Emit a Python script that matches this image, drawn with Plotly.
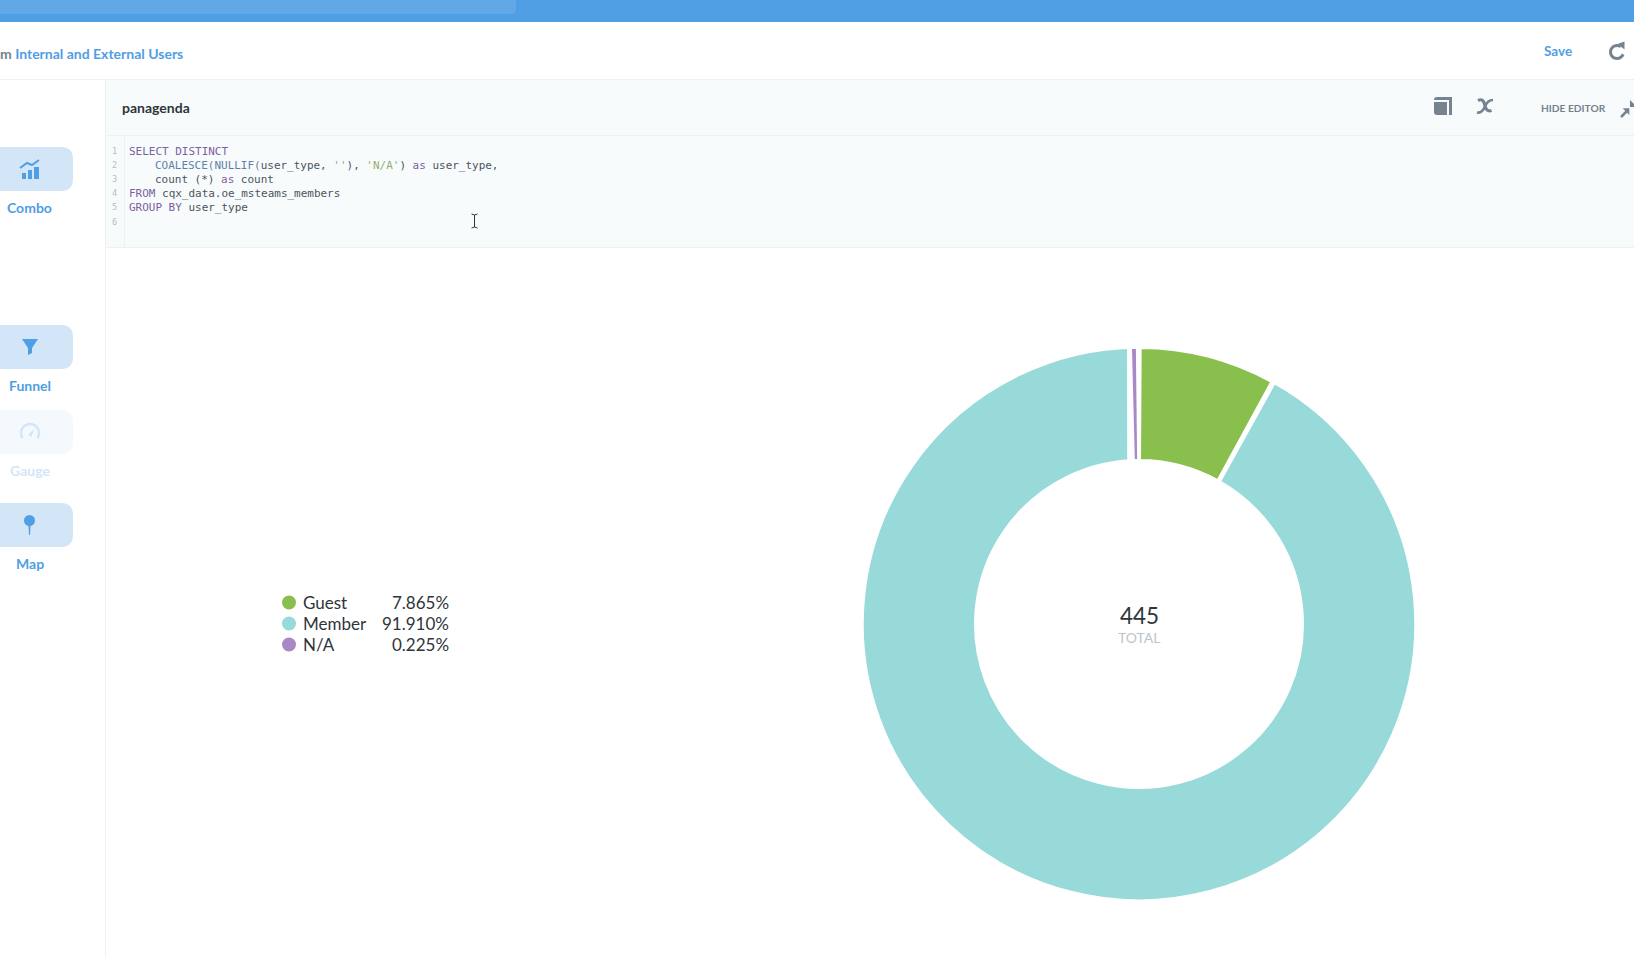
import math
import plotly.graph_objects as go

W, H = 1634, 957

# Data
categories = ["Guest", "Member", "N/A"]
counts = [35, 409, 1]
colors = ["#88BF4D", "#98D9D9", "#A989C5"]
total_label = "TOTAL"
sidebar_labels = ["Combo", "Funnel", "Gauge", "Map"]

K = "#7B5FA0"   # keyword
F = "#5F7FA8"   # function
T = "#4A5560"   # plain text
S = "#8FAF6E"   # string
def c(col, s):
    return f'<span style="color:{col}">{s.replace(" ", chr(160))}</span>'
sql_lines = [
    (129, c(K, "SELECT DISTINCT")),
    (155, c(F, "COALESCE(NULLIF(") + c(T, "user_type, ") + c(S, "''") + c(T, "), ") + c(S, "'N/A'") + c(T, ") ") + c(K, "as") + c(T, " user_type,")),
    (155, c(T, "count (*) ") + c(K, "as") + c(T, " count")),
    (129, c(K, "FROM") + c(T, " cqx_data.oe_msteams_members")),
    (129, c(K, "GROUP BY") + c(T, " user_type")),
]

BLUE = "#509EE3"
ICON = "#74838F"
shapes, ann = [], []

def rect(x0, y0, x1, y1, fill):
    shapes.append(dict(type="rect", x0=x0, y0=y0, x1=x1, y1=y1, fillcolor=fill, line_width=0, layer="below"))

def rrect_left(y0, y1, x1, fill, r=12):
    p = f"M-10,{y0} L{x1-r},{y0} Q{x1},{y0} {x1},{y0+r} L{x1},{y1-r} Q{x1},{y1} {x1-r},{y1} L-10,{y1} Z"
    shapes.append(dict(type="path", path=p, fillcolor=fill, line_width=0, layer="below"))

def path(p, fill=None, line=None, lw=0):
    d = dict(type="path", path=p, layer="below")
    d["fillcolor"] = fill or "rgba(0,0,0,0)"
    d["line"] = dict(color=line or "rgba(0,0,0,0)", width=lw)
    shapes.append(d)

def arc(cx, cy, r, a0, a1, n=24):
    # icon outline, angles in degrees clockwise from 12 o'clock
    pts = []
    for i in range(n + 1):
        a = math.radians(a0 + (a1 - a0) * i / n)
        pts.append(f"{cx + r*math.sin(a):.2f},{cy - r*math.cos(a):.2f}")
    return "M" + " L".join(pts)

def text(x, y, s, size=14, color="#2E353B", anchor="left", family="Lato"):
    shift = {"left": -2, "right": 2, "center": 0}[anchor]
    ann.append(dict(x=x, y=y, text=s, showarrow=False, xanchor=anchor, yanchor="middle", xshift=shift,
                    font=dict(family=family, size=size, color=color), xref="x", yref="y"))

# Top chrome
rect(0, 0, W, 22, BLUE)
path("M-5,0 L516,0 L516,9 Q516,14 510,14 L-5,14 Z", fill="#62A8E7")
rect(0, 79, W, 80, "#EEF0F2")
rect(105, 80, W, 247, "#F8FBFC")
rect(105, 135, W, 136, "#EEF0F2")
rect(105, 247, W, 248, "#EEF0F2")
rect(105, 80, 106, 957, "#EEF0F2")
rect(124, 136, 125, 247, "#EEF0F2")

text(0, 53.5, '<b><span style="color:#74838F">m </span><span style="color:#509EE3">Internal and External Users</span></b>', 14)
ann[-1]["xshift"] = -2.5
text(122, 107.5, "<b>panagenda</b>", 14)
text(1558, 51, "<b>Save</b>", 13.5, BLUE, "center")
text(1573, 108, "<b>HIDE EDITOR</b>", 10.2, ICON, "center")

# Book icon
path("M1434,100 Q1434,97 1437,97 L1452,97 L1452,115 L1449,115 L1449,100 L1434,100 Z", fill=ICON)
path("M1434,102 L1447,102 L1447,115 L1437,115 Q1434,115 1434,112 Z", fill=ICON)
# Variable x icon
path("M1478,100.5 Q1483,98 1484.5,104 Q1486,112.5 1491.5,110.5", line=ICON, lw=3.2)
path("M1477,112.5 Q1482,113.5 1485,106.5 Q1487.5,100 1493,100", line=ICON, lw=2.6)
# Refresh icon
path(arc(1617, 52, 6.5, 110, 395), line=ICON, lw=3)
path("M1617.5,44 L1624.5,41.5 L1624.5,49.5 Z", fill=ICON)
# Collapse arrows
path("M1629.3,108.3 L1629.3,115 L1622.7,108.3 Z", fill=ICON)
path("M1621,117 L1626.5,111.5", line=ICON, lw=2.5)
path("M1630,100 L1630,107 L1637,107 Z", fill=ICON)

# Sidebar
rrect_left(147, 191, 73, "#D3E6F8")
rrect_left(325, 369, 73, "#D3E6F8")
rrect_left(410, 454, 73, "#F3F9FD")
rrect_left(503, 547, 73, "#D3E6F8")
for lab, x, y, col in zip(sidebar_labels, [29.7, 29.7, 29.7, 29.7], [207, 385, 470, 563], [BLUE, BLUE, "#D3E6F8", BLUE]):
    text(x, y, f"<b>{lab}</b>", 14, col, "center")

# Combo icon
rect(22, 173, 26, 179, BLUE); rect(28, 170, 32, 179, BLUE); rect(34, 167, 39, 179, BLUE)
path("M20,168 L27,163 L32,165 L39,160", line=BLUE, lw=2)
# Funnel icon
path("M22,339 L38,339 L32,348 L32,353 L28,355 L28,348 Z", fill=BLUE)
# Gauge icon
path(arc(30, 433, 9, -125, 125), line="#D3E6F8", lw=2.5)
path("M28,435 L34,429 L31.5,437 Z", fill="#D3E6F8")
# Map pin
shapes.append(dict(type="circle", x0=24, y0=515, x1=35, y1=526, fillcolor=BLUE, line_width=0, layer="below"))
path("M28.5,526 L30.5,526 L30,535 L29,535 Z", fill=BLUE)

# SQL editor
for i, y in enumerate([151, 165, 179, 193, 207, 221.5]):
    text(116.7, y, str(i + 1), 8.5, "#B5BCC2", "center", "DejaVu Sans Mono")
    ann[-1]["xshift"] = -2
for (x, s), y in zip(sql_lines, [151, 165, 179, 193, 207]):
    text(x, y, s, 10.98, T, "left", "DejaVu Sans Mono")

# I-beam cursor
path("M471.5,214 L474.5,215 L477.5,214 M474.5,215 L474.5,227 M471.5,228 L474.5,227 L477.5,228", line="#333333", lw=1)

# Legend
total = sum(counts)
for name, v, col, y in zip(categories, counts, colors, [602.5, 623.5, 644.5]):
    shapes.append(dict(type="circle", x0=282, y0=y-7, x1=296, y1=y+7, fillcolor=col, line_width=0, layer="below"))
    text(303, y, name, 17)
    text(449, y, f"{100*v/total:.3f}%", 17, "#2E353B", "right")

# Centre
text(1139, 615, f"{total}", 22.5, "#2E353B", "center")
text(1139, 637, total_label, 14, "#BEC4CA", "center")

cx, cy = 1139, 624
def dom(R):
    return dict(x=[(cx-R)/W, (cx+R)/W], y=[1-(cy+R)/H, 1-(cy-R)/H])

CLEAR = "rgba(0,0,0,0)"
fig = go.Figure()
# Member ring, with white separators cut by the slice strokes
fig.add_trace(go.Pie(
    labels=categories, values=counts, hole=0.5836, sort=False, direction="clockwise", rotation=0.7,
    marker=dict(colors=["white", colors[1], "white"], line=dict(color="white", width=[5.5, 5.5, 23])),
    textinfo="none", showlegend=False, domain=dom(278), hoverinfo="skip",
))
# Guest wedge
fig.add_trace(go.Pie(
    labels=categories, values=counts, hole=0.5939, sort=False, direction="clockwise", rotation=0.34,
    marker=dict(colors=[colors[0], CLEAR, CLEAR], line=dict(color=["white", CLEAR, CLEAR], width=[2.1, 0, 0])),
    textinfo="none", showlegend=False, domain=dom(276.05), hoverinfo="skip",
))
# N/A wedge
fig.add_trace(go.Pie(
    labels=categories, values=counts, hole=0.6, sort=False, direction="clockwise", rotation=-0.65,
    marker=dict(colors=[CLEAR, CLEAR, colors[2]], line=dict(color=CLEAR, width=0)),
    textinfo="none", showlegend=False, domain=dom(275), hoverinfo="skip",
))
fig.add_trace(go.Scatter(x=[0], y=[0], mode="markers", marker=dict(opacity=0), showlegend=False, hoverinfo="skip"))
fig.update_layout(
    width=W, height=H, margin=dict(l=0, r=0, t=0, b=0), paper_bgcolor="white", plot_bgcolor="white",
    xaxis=dict(range=[0, W], visible=False, domain=[0, 1], fixedrange=True),
    yaxis=dict(range=[H, 0], visible=False, domain=[0, 1], fixedrange=True),
    shapes=shapes, annotations=ann, showlegend=False,
)
fig.write_html("out.html", config=dict(displayModeBar=False),
               post_script="document.body.style.margin='0';document.body.style.overflow='hidden';")
